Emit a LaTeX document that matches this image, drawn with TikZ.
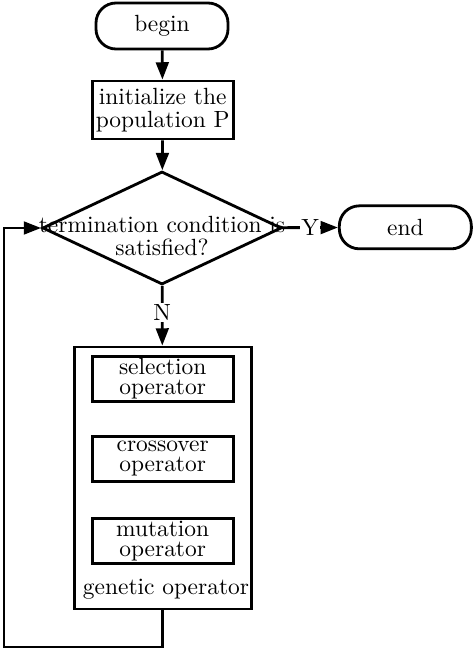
\documentclass[tikz,border=0pt]{standalone}
\usetikzlibrary{arrows.meta,positioning,shapes.geometric}
\begin{document}
\begin{tikzpicture}[x=1cm,y=1cm]
\tikzset{
  terminal/.style={rectangle,rounded corners=3mm,draw=black,line width=1.2pt,minimum width=1.98cm,inner sep=1pt},
  process/.style={rectangle,draw=black,line width=1.2pt,minimum width=2.115cm,align=center,inner sep=1pt},
  decision/.style={diamond,draw=black,line width=1.2pt,minimum width=3.585cm,minimum height=1.695cm,inner sep=0pt},
  flowedge/.style={draw=black,line width=1.2pt,line join=miter},
  flowarrow/.style={flowedge,-{Triangle[length=2.6mm,width=1.9mm]}},
  edgelabel/.style={fill=white,inner sep=0.6pt}
}
\useasboundingbox (0,0) rectangle (7.11,-9.765);
\node[terminal,minimum height=0.69cm] (n_begin) at (2.43,-0.39) {begin};
\node[process,minimum height=0.87cm,font=\fontsize{10}{10}\selectfont] (n_init) at (2.44,-1.65) {initialize the\\population P};
\node[decision] (n_cond) at (2.43,-3.42) {};
\node[align=center,font=\fontsize{10}{9.5}\selectfont] (n_condtext) at (2.43,-3.54) {termination condition is\\satisfied?};
\node[terminal,minimum height=0.645cm] (n_end) at (6.08,-3.41) {end};
\node[rectangle,draw=black,line width=1.2pt,minimum width=2.655cm,minimum height=3.93cm] (n_ga) at (2.44,-7.17) {};
\node[process,minimum height=0.66cm,font=\fontsize{10}{8.6}\selectfont] (n_sel) at (2.44,-5.685) {selection\\operator};
\node[process,minimum height=0.675cm,font=\fontsize{10}{8.6}\selectfont] (n_cross) at (2.44,-6.88) {crossover\\operator};
\node[process,minimum height=0.675cm,font=\fontsize{10}{8.6}\selectfont] (n_mut) at (2.44,-8.11) {mutation\\operator};
\node (n_galabel) at (2.49,-8.835) {genetic operator};
\coordinate (c_loop) at (0.06,-9.705);
\draw[flowarrow] (n_begin) -- (n_init);
\draw[flowarrow] (n_init) -- (n_cond);
\draw[flowarrow] (n_cond) -- node[edgelabel]{Y} (n_end);
\draw[flowarrow] (n_cond) -- node[edgelabel,pos=0.45]{N} (n_ga);
\draw[flowarrow] (n_ga.south) |- (c_loop) |- (n_cond.west);
\end{tikzpicture}
\end{document}
